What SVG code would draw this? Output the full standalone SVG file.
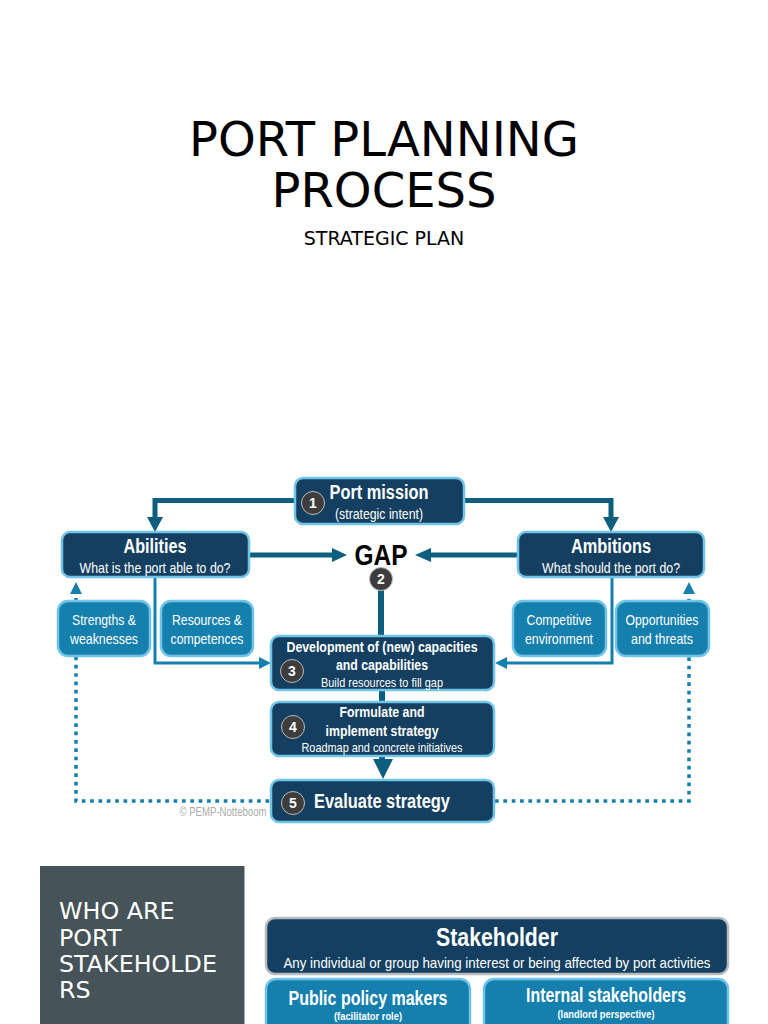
<svg xmlns="http://www.w3.org/2000/svg" width="768" height="1024" viewBox="0 0 768 1024">
<style>
text{font-family:"Liberation Sans",Arial,sans-serif;fill:#fff;text-anchor:middle}
.t{font-family:"DejaVu Sans",sans-serif;fill:#000}
.d{fill:#143f60;stroke:#70c4e8;stroke-width:2.5}
.l{fill:#1580ad;stroke:#70c4e8;stroke-width:2.5}
.b{font-weight:bold}
.c{fill:#3d3d3d;stroke:#bbb;stroke-width:1}
.w{fill:none;stroke:#0c5f7f;stroke-width:5}
.n{fill:none;stroke:#1580ad;stroke-width:3}
.o{fill:none;stroke:#1580ad;stroke-width:3.5;stroke-dasharray:3.7 4.65}
.a{fill:#0c5f7f}
.e{fill:#1580ad}
.s{text-anchor:start;font-family:"DejaVu Sans",sans-serif;font-size:23.8px}
</style>
<rect width="768" height="1024" fill="#fff"/>
<g id="title">
<text class="t" x="384" y="156" font-size="48">PORT PLANNING</text>
<text class="t" x="384" y="207" font-size="48">PROCESS</text>
<text class="t" x="384" y="245" font-size="19">STRATEGIC PLAN</text>
</g>
<g id="connectors">
<path class="w" d="M295 500.500H155V520M465 500.500H611V520M249 555H334M518 555H428"/>
<path class="a" d="M147 517H163L155 532ZM603 517H619L611 532ZM332 548L347 555L332 562ZM431 548L415 555L431 562Z"/>
<path d="M381 588V636M382 690V702M382 757V762" fill="none" stroke="#0c5f7f" stroke-width="6"/>
<path class="a" d="M373 759H393L383 779Z"/>
<path class="n" d="M155 578V663H262M612 578V663H504"/>
<path class="e" d="M259 657L271 663L259 669ZM507 657L495 663L507 669Z"/>
<path class="o" d="M76 598V801H270M495 801H689V598"/>
<path class="e" d="M70 594L76 582L82 594ZM683 594L689 582L695 594Z"/>
</g>
<g id="port-mission">
<rect class="d" x="295" y="478" width="169" height="46" rx="8"/>
<circle class="c" cx="313" cy="503" r="11.500"/>
<text class="b" x="313" y="508" font-size="14">1</text>
<text class="b" x="379" y="499" font-size="20" textLength="99" lengthAdjust="spacingAndGlyphs">Port mission</text>
<text x="379" y="519" font-size="15" textLength="88" lengthAdjust="spacingAndGlyphs">(strategic intent)</text>
</g>
<g id="abilities">
<rect class="d" x="62" y="532" width="187" height="45" rx="8"/>
<text class="b" x="155" y="553" font-size="20" textLength="63" lengthAdjust="spacingAndGlyphs">Abilities</text>
<text x="155" y="573" font-size="15" textLength="151" lengthAdjust="spacingAndGlyphs">What is the port able to do?</text>
</g>
<g id="gap">
<text class="b" x="381" y="565" font-size="29" style="fill:#000" textLength="53" lengthAdjust="spacingAndGlyphs">GAP</text>
<circle class="c" cx="381" cy="579" r="11.500"/>
<text class="b" x="381" y="584" font-size="14">2</text>
</g>
<g id="ambitions">
<rect class="d" x="518" y="532" width="186" height="45" rx="8"/>
<text class="b" x="611" y="553" font-size="20" textLength="80" lengthAdjust="spacingAndGlyphs">Ambitions</text>
<text x="611" y="573" font-size="15" textLength="138" lengthAdjust="spacingAndGlyphs">What should the port do?</text>
</g>
<g id="strengths">
<rect class="l" x="58" y="601" width="92" height="55" rx="10"/>
<text x="104" y="625" font-size="15" textLength="64" lengthAdjust="spacingAndGlyphs">Strengths &amp;</text>
<text x="104" y="644" font-size="15" textLength="68" lengthAdjust="spacingAndGlyphs">weaknesses</text>
</g>
<g id="resources">
<rect class="l" x="161" y="601" width="92" height="55" rx="10"/>
<text x="207" y="625" font-size="15" textLength="70" lengthAdjust="spacingAndGlyphs">Resources &amp;</text>
<text x="207" y="644" font-size="15" textLength="73" lengthAdjust="spacingAndGlyphs">competences</text>
</g>
<g id="competitive">
<rect class="l" x="513" y="601" width="93" height="55" rx="10"/>
<text x="559" y="625" font-size="15" textLength="65" lengthAdjust="spacingAndGlyphs">Competitive</text>
<text x="559" y="644" font-size="15" textLength="68" lengthAdjust="spacingAndGlyphs">environment</text>
</g>
<g id="opportunities">
<rect class="l" x="616" y="601" width="93" height="55" rx="10"/>
<text x="662" y="625" font-size="15" textLength="73" lengthAdjust="spacingAndGlyphs">Opportunities</text>
<text x="662" y="644" font-size="15" textLength="62" lengthAdjust="spacingAndGlyphs">and threats</text>
</g>
<g id="develop">
<rect class="d" x="271" y="636" width="223" height="54" rx="8"/>
<circle class="c" cx="292" cy="671" r="11.500"/>
<text class="b" x="292" y="676" font-size="14">3</text>
<text class="b" x="382" y="652" font-size="15" textLength="191" lengthAdjust="spacingAndGlyphs">Development of (new) capacities</text>
<text class="b" x="382" y="670" font-size="15" textLength="92" lengthAdjust="spacingAndGlyphs">and capabilities</text>
<text x="382" y="687" font-size="13" textLength="122" lengthAdjust="spacingAndGlyphs">Build resources to fill gap</text>
</g>
<g id="formulate">
<rect class="d" x="271" y="702" width="223" height="54" rx="8"/>
<circle class="c" cx="293" cy="727" r="11.500"/>
<text class="b" x="293" y="732" font-size="14">4</text>
<text class="b" x="382" y="717" font-size="15" textLength="85" lengthAdjust="spacingAndGlyphs">Formulate and</text>
<text class="b" x="382" y="736" font-size="15" textLength="113" lengthAdjust="spacingAndGlyphs">implement strategy</text>
<text x="382" y="752" font-size="13" textLength="161" lengthAdjust="spacingAndGlyphs">Roadmap and concrete initiatives</text>
</g>
<g id="evaluate">
<rect class="d" x="271" y="780" width="223" height="42" rx="8"/>
<circle class="c" cx="293" cy="803" r="11.500"/>
<text class="b" x="293" y="808" font-size="14">5</text>
<text class="b" x="382" y="808" font-size="21" textLength="136" lengthAdjust="spacingAndGlyphs">Evaluate strategy</text>
</g>
<text x="223" y="816" font-size="12" style="fill:#aaa" textLength="87" lengthAdjust="spacingAndGlyphs">© PEMP-Notteboom</text>
<g id="who">
<rect x="40" y="866" width="204.500" height="158" fill="#465358"/>
<text class="s" x="59" y="919">WHO ARE</text>
<text class="s" x="59" y="946">PORT</text>
<text class="s" x="59" y="972">STAKEHOLDE</text>
<text class="s" x="59" y="998">RS</text>
</g>
<g id="stakeholder">
<rect x="266" y="918" width="462" height="56" rx="9" fill="#143f60" stroke="#b5bcc0" stroke-width="2.500"/>
<text class="b" x="497" y="946" font-size="26" textLength="122" lengthAdjust="spacingAndGlyphs">Stakeholder</text>
<text x="497" y="968" font-size="15" textLength="427" lengthAdjust="spacingAndGlyphs">Any individual or group having interest or being affected by port activities</text>
</g>
<g id="public">
<rect class="l" x="266" y="979" width="204" height="60" rx="10"/>
<text class="b" x="368" y="1005" font-size="20" textLength="159" lengthAdjust="spacingAndGlyphs">Public policy makers</text>
<text class="b" x="368" y="1020" font-size="10" textLength="68" lengthAdjust="spacingAndGlyphs">(facilitator role)</text>
</g>
<g id="internal">
<rect class="l" x="484" y="979" width="244" height="60" rx="10"/>
<text class="b" x="606" y="1002" font-size="20" textLength="160" lengthAdjust="spacingAndGlyphs">Internal stakeholders</text>
<text class="b" x="606" y="1018" font-size="10" textLength="97" lengthAdjust="spacingAndGlyphs">(landlord perspective)</text>
</g>
</svg>
